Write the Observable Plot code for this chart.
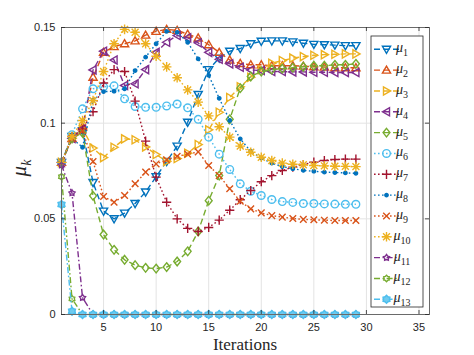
<!DOCTYPE html>
<html><head><meta charset="utf-8">
<script src="https://cdn.jsdelivr.net/npm/d3@7"></script>
<script src="https://cdn.jsdelivr.net/npm/@observablehq/plot@0.6"></script>
<style>
html,body{margin:0;padding:0;background:#fff;}
#chart{width:474px;height:355px;overflow:hidden;}
</style></head><body><div id="chart"></div>
<script>
const iterations = [1,2,3,4,5,6,7,8,9,10,11,12,13,14,15,16,17,18,19,20,21,22,23,24,25,26,27,28,29];
const mu1  = [0.0795,0.093,0.096,0.069,0.054,0.050,0.053,0.058,0.064,0.072,0.080,0.088,0.1005,0.115,0.128,0.134,0.1376,0.139,0.1415,0.1428,0.143,0.143,0.1425,0.1418,0.1412,0.141,0.1408,0.1405,0.1405];
const mu2  = [0.0795,0.092,0.098,0.124,0.137,0.140,0.1415,0.143,0.146,0.148,0.149,0.1485,0.1465,0.1445,0.141,0.137,0.133,0.1312,0.1305,0.1305,0.130,0.130,0.130,0.1298,0.1295,0.1293,0.129,0.129,0.129];
const mu3  = [0.0795,0.092,0.097,0.087,0.082,0.0874,0.0918,0.0913,0.0876,0.0836,0.080,0.0815,0.0843,0.0888,0.0965,0.1057,0.1134,0.119,0.124,0.128,0.1313,0.1327,0.134,0.1348,0.1355,0.1358,0.136,0.1362,0.1362];
const mu4  = [0.0795,0.092,0.097,0.1278,0.1376,0.133,0.1197,0.1206,0.128,0.137,0.1423,0.1458,0.1446,0.142,0.137,0.1334,0.131,0.1292,0.1278,0.1275,0.127,0.127,0.1268,0.1268,0.1266,0.1266,0.1265,0.1265,0.1265];
const mu5  = [0.0795,0.092,0.095,0.062,0.0418,0.0338,0.0286,0.0258,0.0244,0.024,0.0248,0.0277,0.033,0.0434,0.0595,0.0726,0.102,0.1183,0.1244,0.127,0.128,0.1285,0.129,0.1295,0.130,0.130,0.1305,0.1305,0.131];
const mu6  = [0.0795,0.094,0.1075,0.118,0.119,0.1195,0.1127,0.1087,0.1083,0.1083,0.109,0.110,0.108,0.102,0.0927,0.0838,0.0758,0.0683,0.0644,0.0622,0.0601,0.059,0.0586,0.058,0.058,0.0578,0.0577,0.0576,0.0576];
const mu7  = [0.0795,0.093,0.097,0.106,0.121,0.128,0.127,0.1115,0.0906,0.0718,0.0587,0.050,0.045,0.0434,0.0455,0.0493,0.0545,0.060,0.0648,0.0694,0.0726,0.0753,0.077,0.0784,0.0796,0.0805,0.081,0.0812,0.0812];
const mu8  = [0.0795,0.092,0.0874,0.112,0.1165,0.1167,0.118,0.1275,0.1345,0.1415,0.148,0.1475,0.1423,0.1336,0.125,0.113,0.1014,0.0918,0.0853,0.0818,0.0791,0.0773,0.0762,0.0753,0.0749,0.0744,0.0742,0.074,0.0738];
const mu9  = [0.0795,0.092,0.096,0.080,0.0617,0.0587,0.0622,0.0683,0.0744,0.0787,0.0808,0.0827,0.0838,0.085,0.0779,0.0726,0.0657,0.0592,0.0552,0.0531,0.0517,0.0509,0.0502,0.0497,0.0495,0.0493,0.0491,0.0491,0.0491];
const mu10 = [0.0795,0.093,0.1014,0.1118,0.127,0.1415,0.149,0.1475,0.1415,0.135,0.1294,0.1237,0.1174,0.111,0.1038,0.0981,0.0927,0.088,0.0848,0.0822,0.0805,0.0791,0.0785,0.0783,0.0779,0.0777,0.0775,0.0774,0.0773];
const mu11 = [0.078,0.0635,0.0088,0,0,0,0,0,0,0,0,0,0,0,0,0,0,0,0,0,0,0,0,0,0,0,0,0,0];
const mu12 = [0.072,0.0082,0,0,0,0,0,0,0,0,0,0,0,0,0,0,0,0,0,0,0,0,0,0,0,0,0,0,0];
const mu13 = [0.0575,0.0017,0,0,0,0,0,0,0,0,0,0,0,0,0,0,0,0,0,0,0,0,0,0,0,0,0,0,0];
const seriesSubs = ["1","2","3","4","5","6","7","8","9","10","11","12","13"];
const seriesValues = [mu1,mu2,mu3,mu4,mu5,mu6,mu7,mu8,mu9,mu10,mu11,mu12,mu13];
const xTicks = [5,10,15,20,25,30,35];
const yTicks = [0,0.05,0.1,0.15];
const yTickLabels = ["0","0.05","0.1","0.15"];
const xLabel = "Iterations";

// ---- styling ----
const colors = ["#0072BD","#D95319","#EDB120","#7E2F8E","#77AC30","#4DBEEE","#A2142F","#0072BD","#D95319","#EDB120","#7E2F8E","#77AC30","#4DBEEE"];
const DASH = "6,3.5", DOT = "1.6,2.4", DASHDOT = "6,2.5,1.6,2.5";
const dashes = [DASH,DASH,DASH,DASH,DASH,DOT,DOT,DOT,DOT,DOT,DASHDOT,DASHDOT,DASHDOT];

function poly(pts){
  return {draw(ctx,size){const r=Math.sqrt(size/Math.PI);
    pts.forEach(([a,b],i)=> i? ctx.lineTo(a*r,b*r): ctx.moveTo(a*r,b*r)); ctx.closePath();}};
}
function star(n, inner){
  const pts=[];
  for(let i=0;i<2*n;i++){const ang=-Math.PI/2+i*Math.PI/n; const rr=i%2?inner:1; pts.push([rr*Math.cos(ang), rr*Math.sin(ang)]);}
  return poly(pts);
}
const triDown = poly([[0,0.95],[-0.95,-0.7],[0.95,-0.7]]);
const triUp = poly([[0,-0.95],[-0.95,0.7],[0.95,0.7]]);
const triRight = poly([[0.95,0],[-0.7,-0.95],[-0.7,0.95]]);
const triLeft = poly([[-0.95,0],[0.7,-0.95],[0.7,0.95]]);
const diamondS = poly([[0,-1],[0.8,0],[0,1],[-0.8,0]]);
const circleS = {draw(ctx,size){const r=Math.sqrt(size/Math.PI); ctx.moveTo(r,0); ctx.arc(0,0,r,0,2*Math.PI);}};
const plusS = {draw(ctx,size){const r=Math.sqrt(size/Math.PI); ctx.moveTo(-r,0);ctx.lineTo(r,0);ctx.moveTo(0,-r);ctx.lineTo(0,r);}};
const xS = {draw(ctx,size){const r=Math.sqrt(size/Math.PI)*0.75; ctx.moveTo(-r,-r);ctx.lineTo(r,r);ctx.moveTo(-r,r);ctx.lineTo(r,-r);}};
const asteriskS = {draw(ctx,size){const r=Math.sqrt(size/Math.PI); const d=r*0.72; ctx.moveTo(-r,0);ctx.lineTo(r,0);ctx.moveTo(0,-r);ctx.lineTo(0,r);ctx.moveTo(-d,-d);ctx.lineTo(d,d);ctx.moveTo(-d,d);ctx.lineTo(d,-d);}};
const pentagram = star(5,0.6);
const hexagram = star(6,0.72);
const symbols = [triDown,triUp,triRight,triLeft,diamondS,circleS,plusS,circleS,xS,asteriskS,pentagram,hexagram,hexagram];
const radii = [4.3,4.3,4.3,4.3,4.3,3.8,4.6,1.7,4.4,4.8,3.2,3.2,4.0];
const fills = ["none","none","none","none","none","none","none","#0072BD","none","none","none","none","#6fcbef"];

const W=474, H=355, mL=61, mR=45, mT=27, mB=41;
const fw = W-mL-mR, fh = H-mT-mB;

const marks = [
  Plot.gridX(xTicks, {stroke:"#e3e3e3", strokeOpacity:1, strokeWidth:1}),
  Plot.gridY(yTicks.slice(1,-1), {stroke:"#e3e3e3", strokeOpacity:1, strokeWidth:1}),
];
seriesValues.forEach((vals, i) => {
  const data = iterations.map((x, j) => ({x, y: vals[j]}));
  marks.push(Plot.line(data, {x:"x", y:"y", stroke: colors[i], strokeWidth:1.4, strokeDasharray: dashes[i], strokeLinecap:"butt"}));
  marks.push(Plot.dot(data, {x:"x", y:"y", symbol: symbols[i], r: radii[i], stroke: colors[i], fill: fills[i], strokeWidth:1.4}));
});
marks.push(
  Plot.frame({stroke:"#6a6a6a", strokeWidth:1}),
  Plot.tickX(xTicks, {x:d=>d, insetTop: fh-4, stroke:"#262626", strokeWidth:0.8}),
  Plot.tickX(xTicks, {x:d=>d, insetBottom: fh-4, stroke:"#262626", strokeWidth:0.8}),
  Plot.tickY(yTicks, {y:d=>d, insetRight: fw-4, stroke:"#262626", strokeWidth:0.8}),
  Plot.tickY(yTicks, {y:d=>d, insetLeft: fw-4, stroke:"#262626", strokeWidth:0.8}),
  Plot.axisX(xTicks, {tickSize:0, tickPadding:9, label:null, fill:"#262626", fontSize:11}),
  Plot.axisY(yTicks, {tickSize:0, tickPadding:6, label:null, fill:"#262626", fontSize:11, tickFormat: d => yTickLabels[yTicks.indexOf(d)]})
);

const svgPlot = Plot.plot({
  width: W, height: H,
  marginLeft: mL, marginRight: mR, marginTop: mT, marginBottom: mB,
  x: {domain:[1,36]},
  y: {domain:[0,0.15]},
  style: {fontFamily:"'Liberation Sans', Arial, sans-serif", fontSize:"11px", background:"#fff", color:"#262626"},
  marks
});
document.getElementById("chart").appendChild(svgPlot);

const svg = d3.select(svgPlot);
// x label
svg.append("text").attr("x", mL + fw/2).attr("y", 350)
  .attr("text-anchor","middle").attr("font-family","'Liberation Serif', 'Times New Roman', serif")
  .attr("font-size",17).attr("fill","#262626").text(xLabel);
// y label
const yl = svg.append("text").attr("transform","translate(26,168) rotate(-90)")
  .attr("text-anchor","middle").attr("font-family","'Liberation Serif', 'Times New Roman', serif")
  .attr("fill","#262626");
yl.append("tspan").attr("font-size",21).attr("font-style","italic").text("μ");
yl.append("tspan").attr("font-size",14).attr("font-style","italic").attr("dy",5).text("k");

// legend
const lg = svg.append("g");
const lx0=371, ly0=36, lw=52, lh=271;
lg.append("rect").attr("x",lx0).attr("y",ly0).attr("width",lw).attr("height",lh)
  .attr("fill","#fff").attr("stroke","#262626").attr("stroke-width",0.8);
seriesSubs.forEach((s,i)=>{
  const cy = ly0 + 13.3 + i*20.83;
  lg.append("line").attr("x1",374).attr("x2",399).attr("y1",cy).attr("y2",cy)
    .attr("stroke",colors[i]).attr("stroke-width",1.4).attr("stroke-dasharray",dashes[i]);
  const p = d3.path(); const r = radii[i]; symbols[i].draw(p, Math.PI*r*r);
  lg.append("path").attr("d",p.toString()).attr("transform",`translate(386.5,${cy})`)
    .attr("stroke",colors[i]).attr("fill",fills[i]).attr("stroke-width",1.4);
  const t = lg.append("text").attr("x",402).attr("y",cy+3)
    .attr("font-family","'Liberation Serif', 'Times New Roman', serif").attr("fill","#262626");
  t.append("tspan").attr("font-size",14).attr("font-style","italic").text("μ");
  t.append("tspan").attr("font-size",10).attr("dy",4).text(s);
});
</script></body></html>
